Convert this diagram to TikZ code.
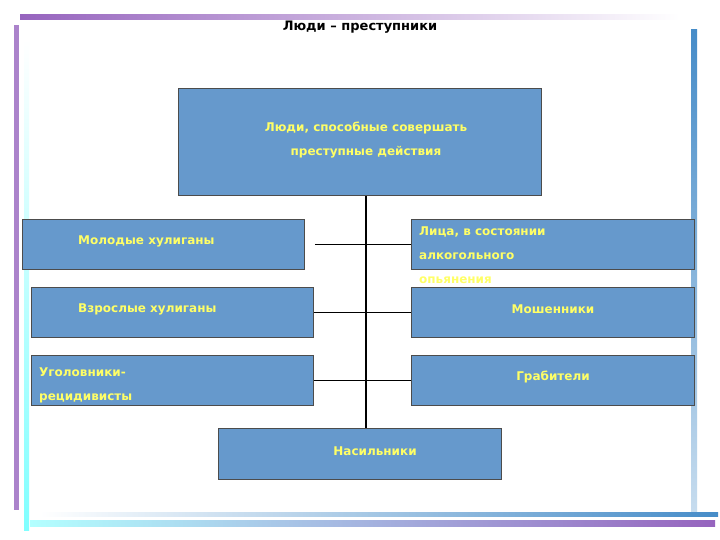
\documentclass[tikz,border=0pt]{standalone}
\usepackage{fontspec}
\setmainfont{DejaVu Sans}
\definecolor{BoxBlue}{RGB}{102,153,204}
\definecolor{BoxText}{RGB}{255,255,102}
\definecolor{BarPurple}{RGB}{150,100,190}
\definecolor{BarBlue}{RGB}{70,140,200}
\tikzset{
  kind/.style={draw=black!70, fill=BoxBlue, line width=0.8pt, anchor=north west, inner sep=0pt},
  kindtext/.style={text=BoxText, font=\bfseries\fontsize{12}{24}\selectfont, inner sep=0pt, align=left},
  link/.style={line width=1.6pt, black}
}
\begin{document}
\begin{tikzpicture}[x=1pt,y=-1pt]
\useasboundingbox (0,0) rectangle (720,540);
\fill[white] (0,0) rectangle (720,540);
% frame bars
\shade[left color=BarPurple, right color=white] (20,15) rectangle (680,20);
\fill[BarPurple!80] (14,25) rectangle (19,510);
\shade[top color=white, bottom color=cyan!50] (24,40) rectangle (29,530);
\shade[top color=BarBlue, bottom color=BarBlue!30] (691,30) rectangle (697,515);
\shade[left color=cyan!30, right color=BarPurple] (30,520) rectangle (715,526);
\shade[left color=white, right color=BarBlue] (40,512) rectangle (718,516);
\node[font=\bfseries\fontsize{13}{15}\selectfont] (title) at (360,27) {Люди – преступники};
% boxes
\node[kind, minimum width=363, minimum height=107] (top) at (178,88) {};
\node[kind, minimum width=282, minimum height=50] (mol) at (22,219) {};
\node[kind, minimum width=282, minimum height=50] (vzr) at (31,287) {};
\node[kind, minimum width=282, minimum height=50] (ugo) at (31,355) {};
\node[kind, minimum width=283, minimum height=50] (lic) at (411,219) {};
\node[kind, minimum width=283, minimum height=50] (mos) at (411,287) {};
\node[kind, minimum width=283, minimum height=50] (gra) at (411,355) {};
\node[kind, minimum width=283, minimum height=51] (nas) at (218,428) {};
% connectors
\draw[link] (top.south -| 366,0) -- (nas.north -| 366,0);
\draw[link] ([xshift=10pt]mol.east) -- (lic.west);
\draw[link] (vzr.east) -- (mos.west);
\draw[link] (ugo.east) -- (gra.west);
% texts
\node[kindtext, align=center] (toptext) at (366,140) {Люди, способные совершать\\преступные действия};
\node[kindtext, anchor=west] (moltext) at (78,241) {Молодые хулиганы};
\node[kindtext, anchor=west] (vzrtext) at (78,309) {Взрослые хулиганы};
\node[kindtext, anchor=north west] (ugotext) at (39,368) {Уголовники-\\рецидивисты};
\node[kindtext, anchor=north west] (lictext) at (419,227) {Лица, в состоянии\\алкогольного\\опьянения};
\node[kindtext] (mostext) at (553,309) {Мошенники};
\node[kindtext] (gratext) at (553,377) {Грабители};
\node[kindtext] (nastext) at (375,451) {Насильники};
\end{tikzpicture}
\end{document}
